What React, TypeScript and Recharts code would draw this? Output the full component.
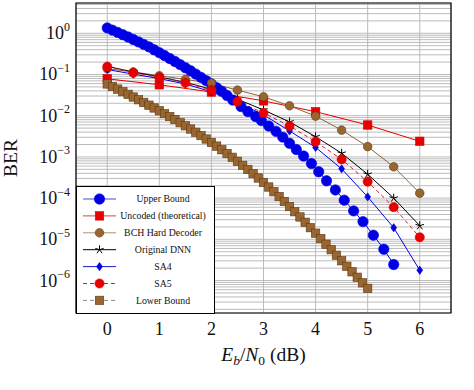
import React from 'react';
import { LineChart, Line, XAxis, YAxis, CartesianGrid, ReferenceArea, Legend } from 'recharts';

// ---------- data (BER vs Eb/N0 in dB) ----------
const halfStepX = [0, 0.5, 1, 1.5, 2, 2.5, 3, 3.5, 4, 4.5, 5, 5.5, 6];
const uncodedX = [0, 1, 2, 3, 4, 5, 6];

const upperBoundX = [
  0, 0.1, 0.2, 0.3, 0.4, 0.5, 0.6, 0.7, 0.8, 0.9, 1.0, 1.1, 1.2, 1.3, 1.4, 1.5, 1.6, 1.7, 1.8, 1.9, 2.0,
  2.1, 2.2, 2.3, 2.41, 2.57, 2.7, 2.85, 2.96, 3.1, 3.24, 3.37, 3.5, 3.63, 3.77, 3.92, 4.06, 4.21, 4.38,
  4.55, 4.73, 4.91, 5.11, 5.31, 5.5,
];
const upperBoundY = [
  1.35, 1.19, 1.05, 0.923, 0.813, 0.708, 0.617, 0.537, 0.468, 0.398, 0.339, 0.288, 0.245, 0.207, 0.174,
  0.146, 0.123, 0.102, 0.0851, 0.0708, 0.0589, 0.0479, 0.0389, 0.0309, 0.024, 0.0166, 0.0126, 0.00955,
  0.00759, 0.00562, 0.00417, 0.00302, 0.00214, 0.00151, 0.00105, 0.000692, 0.000437, 0.000263, 0.000158,
  8.91e-5, 4.9e-5, 2.69e-5, 1.26e-5, 5.75e-6, 2.45e-6,
];

const uncodedY = [0.0786, 0.0563, 0.0375, 0.0229, 0.0125, 0.00595, 0.00239];
const bchY = [0.138, 0.115, 0.0933, 0.0759, 0.0617, 0.0417, 0.0288, 0.0174, 0.00977, 0.00447, 0.00178, 0.000575, 0.000132];
const dnnY = [0.158, 0.115, 0.0871, 0.0646, 0.0437, 0.0251, 0.0138, 0.00708, 0.00309, 0.00123, 0.00038, 0.0001, 2.14e-5];
const sa4Y = [0.132, 0.102, 0.0794, 0.0589, 0.038, 0.0209, 0.0105, 0.00427, 0.0017, 0.000513, 0.000107, 1.91e-5, 1.78e-6];
const sa5Y = [0.155, 0.11, 0.0851, 0.0631, 0.0417, 0.0219, 0.0117, 0.00562, 0.00234, 0.000871, 0.000251, 6.03e-5, 1.12e-5];

const lowerBoundX = [
  0, 0.1, 0.2, 0.3, 0.4, 0.5, 0.6, 0.7, 0.8, 0.9, 1.0, 1.1, 1.2, 1.3, 1.4, 1.5, 1.6, 1.7, 1.8, 1.9, 2.0,
  2.1, 2.2, 2.3, 2.4, 2.5, 2.6, 2.7, 2.8, 2.9, 3.0, 3.1, 3.2, 3.3, 3.4, 3.5, 3.6, 3.7, 3.8, 3.9, 4.0,
  4.1, 4.2, 4.3, 4.4, 4.5, 4.6, 4.7, 4.8, 4.9, 5.0,
];
const lowerBoundY = [
  0.0589, 0.0511, 0.0442, 0.0382, 0.033, 0.0284, 0.0244, 0.021, 0.018, 0.0154, 0.0132, 0.0112, 0.00953,
  0.00805, 0.00678, 0.00569, 0.00475, 0.00396, 0.00329, 0.00272, 0.00224, 0.00183, 0.00149, 0.00121,
  0.000977, 0.000783, 0.000625, 0.000497, 0.000393, 0.000308, 0.00024, 0.000186, 0.000143, 0.000109,
  8.28e-5, 6.24e-5, 4.68e-5, 3.49e-5, 2.59e-5, 1.92e-5, 1.41e-5, 1.04e-5, 7.62e-6, 5.6e-6, 4.11e-6,
  3.02e-6, 2.22e-6, 1.63e-6, 1.2e-6, 8.79e-7, 6.46e-7,
];

const xTicks = [0, 1, 2, 3, 4, 5, 6];
const majorYTicks = [1e-7, 1e-6, 1e-5, 1e-4, 1e-3, 1e-2, 1e-1, 1];
const minorMultipliers = [2, 3, 4, 5, 6, 7, 8, 9];

const seriesNames = [
  'Upper Bound',
  'Uncoded (theoretical)',
  'BCH Hard Decoder',
  'Original DNN',
  'SA4',
  'SA5',
  'Lower Bound',
];

// ---------- helpers ----------
const toPoints = (xs: number[], ys: number[]) => xs.map((x, i) => ({ x, y: ys[i] }));

const X_DOMAIN: [number, number] = [-0.6, 6.6];
const Y_DOMAIN: [number, number] = [1.63e-7, 5.43];
const yTicks = majorYTicks
  .flatMap((m) => [m, ...minorMultipliers.map((k) => m * k)])
  .filter((v) => v >= Y_DOMAIN[0] && v <= Y_DOMAIN[1])
  .sort((a, b) => a - b);

const FONT = '"Liberation Serif", "Times New Roman", serif';
const BLUE = '#0000e6';
const RED = '#e60000';
const BROWN = '#9a6630';
const BROWN_DARK = '#5a3a18';
const BCH_LINE = '#8c6239';
const SA5_LINE = '#d0203a';
const GRAY = '#7f7f7f';

type Shape = (cx: number, cy: number, key?: any) => React.ReactElement;

const circle = (r: number, fill: string, stroke: string): Shape => (cx, cy, key) => (
  <circle key={key} cx={cx} cy={cy} r={r} fill={fill} stroke={stroke} strokeWidth={0.6} />
);
const square = (s: number, fill: string, stroke: string): Shape => (cx, cy, key) => (
  <rect key={key} x={cx - s / 2} y={cy - s / 2} width={s} height={s} fill={fill} stroke={stroke} strokeWidth={0.6} />
);
const diamond = (w: number, h: number, fill: string): Shape => (cx, cy, key) => (
  <path key={key} d={`M${cx},${cy - h}L${cx + w},${cy}L${cx},${cy + h}L${cx - w},${cy}Z`} fill={fill} stroke={fill} strokeWidth={0.5} />
);
const star = (r: number, color: string): Shape => (cx, cy, key) => {
  const d = [0, 1, 2, 3, 4]
    .map((i) => {
      const a = -Math.PI / 2 + (i * 2 * Math.PI) / 5;
      return `M${cx},${cy}L${cx + r * Math.cos(a)},${cy + r * Math.sin(a)}`;
    })
    .join('');
  return <path key={key} d={d} stroke={color} strokeWidth={1} fill="none" />;
};

const shapes: Shape[] = [
  circle(5.2, BLUE, BLUE),
  square(8.5, RED, RED),
  circle(4.3, BROWN, BROWN_DARK),
  star(4.4, '#000'),
  diamond(3, 4.2, BLUE),
  circle(4.6, RED, RED),
  square(8.4, BROWN, BROWN_DARK),
];
const lineColors = [BLUE, RED, BCH_LINE, '#000', BLUE, SA5_LINE, GRAY];
const legendLineColors = ['#4a4ae0', '#d84040', '#b8916a', '#000', '#1a1ad0', '#c82040', '#8a8a8a'];
const dashes = [undefined, undefined, undefined, undefined, undefined, '4 3', '4 3'];

const dotRenderer = (shape: Shape) => (props: any) => {
  const { cx, cy, index } = props;
  if (cx == null || cy == null || isNaN(cx) || isNaN(cy)) return <g key={index} />;
  return shape(cx, cy, index);
};

// ---------- axis pieces ----------
const YTick = (props: any) => {
  const { x, y, payload } = props;
  const v = payload.value;
  const lg = Math.log10(v);
  const e = Math.round(lg);
  if (Math.abs(lg - e) > 1e-6) return <g />;
  return (
    <text x={x - 6} y={y + 6} textAnchor="end" fontFamily={FONT} fontSize={18} fill="#111">
      10
      <tspan dy={-8.5} fontSize={12}>{e === 0 ? '0' : '\u2212' + -e}</tspan>
    </text>
  );
};

const XTick = (props: any) => {
  const { x, y, payload } = props;
  return (
    <text x={x} y={y + 22} textAnchor="middle" fontFamily={FONT} fontSize={18} fill="#111">
      {payload.value}
    </text>
  );
};

const XTitle = (props: any) => {
  const vb = props.viewBox || { x: 76, y: 313, width: 375, height: 77 };
  const cx = vb.x + vb.width / 2;
  return (
    <text x={cx} y={vb.y + 48} textAnchor="middle" fontFamily={FONT} fontSize={19.5} fill="#111">
      <tspan fontStyle="italic">E</tspan>
      <tspan fontStyle="italic" fontSize={13.5} dy={4}>b</tspan>
      <tspan dy={-4}>/</tspan>
      <tspan fontStyle="italic">N</tspan>
      <tspan fontSize={13.5} dy={4}>0</tspan>
      <tspan dy={-4}>{' (dB)'}</tspan>
    </text>
  );
};

const YTitle = (props: any) => {
  const vb = props.viewBox || { x: 0, y: 3, width: 76, height: 310 };
  const cy = vb.y + vb.height / 2;
  const cx = 11;
  return (
    <text x={cx} y={cy} dy={6} transform={`rotate(-90 ${cx} ${cy})`} textAnchor="middle" fontFamily={FONT} fontSize={19.5} fill="#111">
      BER
    </text>
  );
};

// ---------- legend ----------
const LegendBox = () => {
  const rowY = (i: number) => 12 + i * 16.9;
  return (
    <div
      style={{
        width: 139,
        height: 128,
        boxSizing: 'border-box',
        border: '1.2px solid #000',
        background: '#fff',
      }}
    >
      <svg width={137} height={126} style={{ display: 'block' }}>
        {seriesNames.map((name, i) => {
          const y = rowY(i);
          return (
            <g key={name}>
              <line x1={6} x2={39} y1={y} y2={y} stroke={legendLineColors[i]} strokeWidth={1} strokeDasharray={dashes[i]} />
              {shapes[i](22.5, y)}
              <text x={86} y={y + 3.4} textAnchor="middle" fontFamily={FONT} fontSize={9.8} fill="#111">
                {name}
              </text>
            </g>
          );
        })}
      </svg>
    </div>
  );
};

const seriesData = [
  toPoints(upperBoundX, upperBoundY),
  toPoints(uncodedX, uncodedY),
  toPoints(halfStepX, bchY),
  toPoints(halfStepX, dnnY),
  toPoints(halfStepX, sa4Y),
  toPoints(halfStepX, sa5Y),
  toPoints(lowerBoundX, lowerBoundY),
];

export default function App() {
  return (
    <div style={{ position: 'absolute', left: 0, top: 0, width: 474, height: 390, background: '#fff' }}>
      <LineChart width={474} height={390} margin={{ top: 3, right: 23, bottom: 0, left: 0 }}>
        <CartesianGrid stroke="#b4b4b4" strokeWidth={0.9} horizontal vertical />
        <XAxis
          dataKey="x"
          type="number"
          domain={X_DOMAIN}
          ticks={xTicks}
          allowDataOverflow
          height={77}
          tickSize={0}
          tickMargin={0}
          tickLine={false}
          axisLine={false}
          tick={<XTick />}
          label={<XTitle />}
        />
        <YAxis
          dataKey="y"
          type="number"
          scale="log"
          domain={Y_DOMAIN}
          ticks={yTicks}
          allowDataOverflow
          width={76}
          tickSize={0}
          tickMargin={0}
          tickLine={false}
          axisLine={false}
          tick={<YTick />}
          interval={0}
          label={<YTitle />}
        />
        <ReferenceArea
          x1={X_DOMAIN[0]}
          x2={X_DOMAIN[1]}
          y1={Y_DOMAIN[0]}
          y2={Y_DOMAIN[1]}
          fill="none"
          stroke="#000"
          strokeWidth={1.2}
          ifOverflow="visible"
        />
        {seriesData.map((data, i) => (
          <Line
            key={seriesNames[i]}
            name={seriesNames[i]}
            data={data}
            dataKey="y"
            type="linear"
            stroke={lineColors[i]}
            strokeWidth={1}
            strokeDasharray={dashes[i]}
            dot={dotRenderer(shapes[i])}
            activeDot={false}
            isAnimationActive={false}
          />
        ))}
        <Legend
          layout="vertical"
          align="center"
          verticalAlign="middle"
          content={() => <LegendBox />}
          wrapperStyle={{ position: 'absolute', left: 76, top: 186, width: 139, height: 128, margin: 0, padding: 0 }}
        />
      </LineChart>
    </div>
  );
}
